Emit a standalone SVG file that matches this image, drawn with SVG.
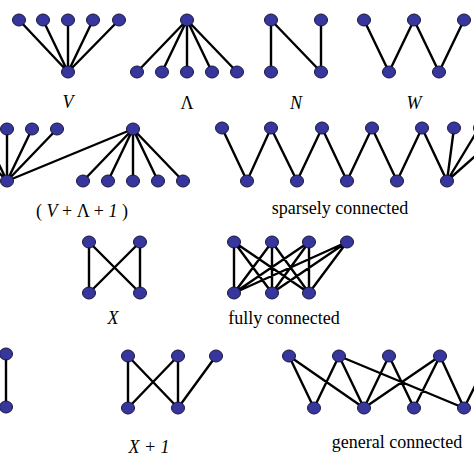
<svg xmlns="http://www.w3.org/2000/svg" width="474" height="474" viewBox="0 0 474 474">
<style>
.e{stroke:#000;stroke-width:2.4;stroke-linecap:round;fill:none}
.n{fill:#36369c;stroke:#14143c;stroke-width:1}
.t{font-family:"Liberation Serif","Times New Roman",serif;font-size:18px;fill:#000;text-anchor:middle}
.i{font-style:italic}
</style>
<rect width="474" height="474" fill="#fff"/>
<g id="connectors" class="e">
<!-- V -->
<path d="M19 20L68 72M43 20L68 72M68 20L68 72M93 20L68 72M119 20L68 72"/>
<!-- Lambda -->
<path d="M187 20L137 72M187 20L162 72M187 20L187 72M187 20L212 72M187 20L237 72"/>
<!-- N -->
<path d="M271 20L271 72M271 20L321 72M321 20L321 72"/>
<!-- W -->
<path d="M364 20L389 72L414 20L439 72L464 20"/>
<!-- V+L+1 -->
<path d="M-43 129L7 181M-18 129L7 181M7 129L7 181M32 129L7 181M57 129L7 181M133 129L7 181"/>
<path d="M133 129L83 181M133 129L108 181M133 129L133 181M133 129L158 181M133 129L183 181"/>
<!-- sparse -->
<path d="M222 128L247 181L271 128L297 181L322 128L347 181L372 128L397 181L422 128L447 181L454 128M447 181L479 128M447 181L507 128"/>
<!-- X -->
<path d="M89 242L89 293M140 242L140 293M89 242L140 293M140 242L89 293"/>
<!-- fully -->
<path d="M234 242L234 293M234 242L272 293M234 242L309 293M272 242L234 293M272 242L272 293M272 242L309 293M309 242L234 293M309 242L272 293M309 242L309 293M347 242L234 293M347 242L272 293M347 242L309 293"/>
<!-- partial left -->
<path d="M6 354L6 407"/>
<!-- X+1 -->
<path d="M128 356L128 408M128 356L178 408M178 356L128 408M178 356L178 408M216 356L178 408"/>
<!-- general -->
<path d="M289 356L314 408M289 356L364 408M339 356L314 408M339 356L364 408M339 356L464 408M389 356L364 408M389 356L414 408M440 356L364 408M440 356L414 408M440 356L464 408M464 408L490 356"/>
</g>
<g id="nodes" class="n">
<g id="v1"><ellipse cx="19" cy="20" rx="6.5" ry="6"/></g>
<g id="v2"><ellipse cx="43" cy="20" rx="6.5" ry="6"/></g>
<g id="v3"><ellipse cx="68" cy="20" rx="6.5" ry="6"/></g>
<g id="v4"><ellipse cx="93" cy="20" rx="6.5" ry="6"/></g>
<g id="v5"><ellipse cx="119" cy="20" rx="6.5" ry="6"/></g>
<g id="v6"><ellipse cx="68" cy="72" rx="6.5" ry="6"/></g>
<g id="l1"><ellipse cx="187" cy="20" rx="6.5" ry="6"/></g>
<g id="l2"><ellipse cx="137" cy="72" rx="6.5" ry="6"/></g>
<g id="l3"><ellipse cx="162" cy="72" rx="6.5" ry="6"/></g>
<g id="l4"><ellipse cx="187" cy="72" rx="6.5" ry="6"/></g>
<g id="l5"><ellipse cx="212" cy="72" rx="6.5" ry="6"/></g>
<g id="l6"><ellipse cx="237" cy="72" rx="6.5" ry="6"/></g>
<g id="n1"><ellipse cx="271" cy="20" rx="6.5" ry="6"/></g>
<g id="n2"><ellipse cx="321" cy="20" rx="6.5" ry="6"/></g>
<g id="n3"><ellipse cx="271" cy="72" rx="6.5" ry="6"/></g>
<g id="n4"><ellipse cx="321" cy="72" rx="6.5" ry="6"/></g>
<g id="w1"><ellipse cx="364" cy="20" rx="6.5" ry="6"/></g>
<g id="w2"><ellipse cx="414" cy="20" rx="6.5" ry="6"/></g>
<g id="w3"><ellipse cx="464" cy="20" rx="6.5" ry="6"/></g>
<g id="w4"><ellipse cx="389" cy="72" rx="6.5" ry="6"/></g>
<g id="w5"><ellipse cx="439" cy="72" rx="6.5" ry="6"/></g>
<g id="c1"><ellipse cx="7" cy="129" rx="6.5" ry="6"/></g>
<g id="c2"><ellipse cx="32" cy="129" rx="6.5" ry="6"/></g>
<g id="c3"><ellipse cx="57" cy="129" rx="6.5" ry="6"/></g>
<g id="c4"><ellipse cx="7" cy="181" rx="6.5" ry="6"/></g>
<g id="c5"><ellipse cx="133" cy="129" rx="6.5" ry="6"/></g>
<g id="c6"><ellipse cx="83" cy="181" rx="6.5" ry="6"/></g>
<g id="c7"><ellipse cx="108" cy="181" rx="6.5" ry="6"/></g>
<g id="c8"><ellipse cx="133" cy="181" rx="6.5" ry="6"/></g>
<g id="c9"><ellipse cx="158" cy="181" rx="6.5" ry="6"/></g>
<g id="c10"><ellipse cx="183" cy="181" rx="6.5" ry="6"/></g>
<g id="s1"><ellipse cx="222" cy="128" rx="6.5" ry="6"/></g>
<g id="s2"><ellipse cx="271" cy="128" rx="6.5" ry="6"/></g>
<g id="s3"><ellipse cx="322" cy="128" rx="6.5" ry="6"/></g>
<g id="s4"><ellipse cx="372" cy="128" rx="6.5" ry="6"/></g>
<g id="s5"><ellipse cx="422" cy="128" rx="6.5" ry="6"/></g>
<g id="s6"><ellipse cx="454" cy="128" rx="6.5" ry="6"/></g>
<g id="s7"><ellipse cx="480" cy="128" rx="6.5" ry="6"/></g>
<g id="s8"><ellipse cx="247" cy="181" rx="6.5" ry="6"/></g>
<g id="s9"><ellipse cx="297" cy="181" rx="6.5" ry="6"/></g>
<g id="s10"><ellipse cx="347" cy="181" rx="6.5" ry="6"/></g>
<g id="s11"><ellipse cx="397" cy="181" rx="6.5" ry="6"/></g>
<g id="s12"><ellipse cx="447" cy="181" rx="6.5" ry="6"/></g>
<g id="x1"><ellipse cx="89" cy="242" rx="6.5" ry="6"/></g>
<g id="x2"><ellipse cx="140" cy="242" rx="6.5" ry="6"/></g>
<g id="x3"><ellipse cx="89" cy="293" rx="6.5" ry="6"/></g>
<g id="x4"><ellipse cx="140" cy="293" rx="6.5" ry="6"/></g>
<g id="f1"><ellipse cx="234" cy="242" rx="6.5" ry="6"/></g>
<g id="f2"><ellipse cx="272" cy="242" rx="6.5" ry="6"/></g>
<g id="f3"><ellipse cx="309" cy="242" rx="6.5" ry="6"/></g>
<g id="f4"><ellipse cx="347" cy="242" rx="6.5" ry="6"/></g>
<g id="f5"><ellipse cx="234" cy="293" rx="6.5" ry="6"/></g>
<g id="f6"><ellipse cx="272" cy="293" rx="6.5" ry="6"/></g>
<g id="f7"><ellipse cx="309" cy="293" rx="6.5" ry="6"/></g>
<g id="p1"><ellipse cx="6" cy="354" rx="6.5" ry="6"/></g>
<g id="p2"><ellipse cx="6" cy="407" rx="6.5" ry="6"/></g>
<g id="y1"><ellipse cx="128" cy="356" rx="6.5" ry="6"/></g>
<g id="y2"><ellipse cx="178" cy="356" rx="6.5" ry="6"/></g>
<g id="y3"><ellipse cx="216" cy="356" rx="6.5" ry="6"/></g>
<g id="y4"><ellipse cx="128" cy="408" rx="6.5" ry="6"/></g>
<g id="y5"><ellipse cx="178" cy="408" rx="6.5" ry="6"/></g>
<g id="g1"><ellipse cx="289" cy="356" rx="6.5" ry="6"/></g>
<g id="g2"><ellipse cx="339" cy="356" rx="6.5" ry="6"/></g>
<g id="g3"><ellipse cx="389" cy="356" rx="6.5" ry="6"/></g>
<g id="g4"><ellipse cx="440" cy="356" rx="6.5" ry="6"/></g>
<g id="g5"><ellipse cx="314" cy="408" rx="6.5" ry="6"/></g>
<g id="g6"><ellipse cx="364" cy="408" rx="6.5" ry="6"/></g>
<g id="g7"><ellipse cx="414" cy="408" rx="6.5" ry="6"/></g>
<g id="g8"><ellipse cx="464" cy="408" rx="6.5" ry="6"/></g>
</g>
<g id="labels" class="t">
<text class="i" x="68" y="108">V</text>
<text x="187" y="109">Λ</text>
<text class="i" x="296" y="109">N</text>
<text class="i" x="414" y="109">W</text>
<text x="82" y="217">( <tspan class="i">V</tspan> + Λ + <tspan class="i">1</tspan> )</text>
<text x="340" y="214">sparsely connected</text>
<text class="i" x="113" y="324">X</text>
<text x="284" y="324">fully connected</text>
<text class="i" x="149" y="453">X + 1</text>
<text x="397" y="448">general connected</text>
</g>
</svg>
